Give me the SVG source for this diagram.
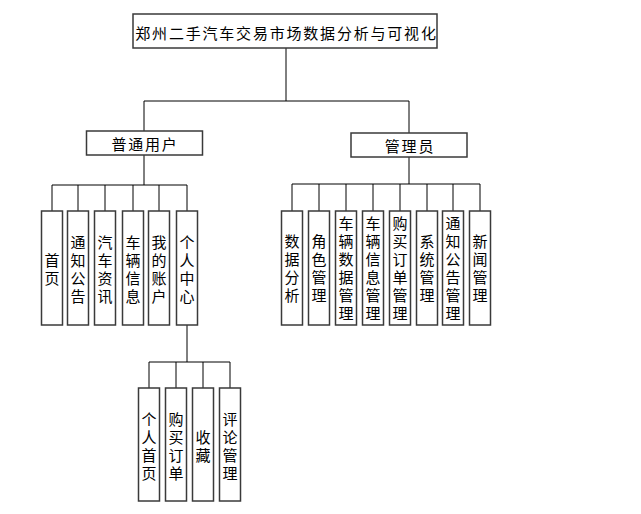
<svg xmlns="http://www.w3.org/2000/svg" width="641" height="514" viewBox="0 0 641 514">
<style>
.box{fill:#fff;stroke:#3a3a3a;stroke-width:1.5}
.ln{fill:none;stroke:#000;stroke-width:1}
text{font-family:"Noto Sans CJK SC","Noto Sans CJK JP",sans-serif;font-size:15px;fill:#000;text-anchor:middle;dominant-baseline:central}
.h{letter-spacing:1.8px}
.v{writing-mode:vertical-rl;text-orientation:upright}
</style>
<rect width="641" height="514" fill="#fff"/>
<g id="connectors">
<path class="ln" d="M286,48V101M144,101H409M144,101V131M409,101V133"/>
<path class="ln" d="M144,155V185M52,185H187M52,185V211M78,185V211M105,185V211M133,185V211M159,185V211M187,185V211"/>
<path class="ln" d="M409,157V184M292,184H480M292,184V211M319,184V211M346,184V211M373,184V211M400,184V211M427,184V211M453,184V211M480,184V211"/>
<path class="ln" d="M187,325V362M149,362H230M149,362V388M176,362V388M203,362V388M230,362V388"/>
</g>
<g id="title"><rect class="box" x="133" y="14" width="304" height="34"/><text class="h" x="286.5" y="32">郑州二手汽车交易市场数据分析与可视化</text></g>
<g id="user"><rect class="box" x="86.5" y="131" width="116" height="24"/><text class="h" x="145" y="143">普通用户</text></g>
<g id="admin"><rect class="box" x="351" y="133" width="116" height="24"/><text class="h" x="410" y="145">管理员</text></g>

<g id="u1"><rect class="box" x="41.5" y="211" width="21" height="114"/><text class="v"><tspan x="52" y="260">首</tspan><tspan x="52" y="278">页</tspan></text></g>
<g id="u2"><rect class="box" x="67.5" y="211" width="21" height="114"/><text class="v"><tspan x="78" y="242">通</tspan><tspan x="78" y="260">知</tspan><tspan x="78" y="278">公</tspan><tspan x="78" y="296">告</tspan></text></g>
<g id="u3"><rect class="box" x="94.5" y="211" width="21" height="114"/><text class="v"><tspan x="105" y="242">汽</tspan><tspan x="105" y="260">车</tspan><tspan x="105" y="278">资</tspan><tspan x="105" y="296">讯</tspan></text></g>
<g id="u4"><rect class="box" x="122.5" y="211" width="21" height="114"/><text class="v"><tspan x="133" y="242">车</tspan><tspan x="133" y="260">辆</tspan><tspan x="133" y="278">信</tspan><tspan x="133" y="296">息</tspan></text></g>
<g id="u5"><rect class="box" x="148.5" y="211" width="21" height="114"/><text class="v"><tspan x="159" y="242">我</tspan><tspan x="159" y="260">的</tspan><tspan x="159" y="278">账</tspan><tspan x="159" y="296">户</tspan></text></g>
<g id="u6"><rect class="box" x="176.5" y="211" width="21" height="114"/><text class="v"><tspan x="187" y="242">个</tspan><tspan x="187" y="260">人</tspan><tspan x="187" y="278">中</tspan><tspan x="187" y="296">心</tspan></text></g>

<g id="a1"><rect class="box" x="281.5" y="211" width="21" height="114"/><text class="v"><tspan x="292" y="241">数</tspan><tspan x="292" y="259">据</tspan><tspan x="292" y="277">分</tspan><tspan x="292" y="295">析</tspan></text></g>
<g id="a2"><rect class="box" x="308.5" y="211" width="21" height="114"/><text class="v"><tspan x="319" y="241">角</tspan><tspan x="319" y="259">色</tspan><tspan x="319" y="277">管</tspan><tspan x="319" y="295">理</tspan></text></g>
<g id="a3"><rect class="box" x="335.5" y="211" width="21" height="114"/><text class="v"><tspan x="346" y="223">车</tspan><tspan x="346" y="241">辆</tspan><tspan x="346" y="259">数</tspan><tspan x="346" y="277">据</tspan><tspan x="346" y="295">管</tspan><tspan x="346" y="313">理</tspan></text></g>
<g id="a4"><rect class="box" x="362.5" y="211" width="21" height="114"/><text class="v"><tspan x="373" y="223">车</tspan><tspan x="373" y="241">辆</tspan><tspan x="373" y="259">信</tspan><tspan x="373" y="277">息</tspan><tspan x="373" y="295">管</tspan><tspan x="373" y="313">理</tspan></text></g>
<g id="a5"><rect class="box" x="389.5" y="211" width="21" height="114"/><text class="v"><tspan x="400" y="223">购</tspan><tspan x="400" y="241">买</tspan><tspan x="400" y="259">订</tspan><tspan x="400" y="277">单</tspan><tspan x="400" y="295">管</tspan><tspan x="400" y="313">理</tspan></text></g>
<g id="a6"><rect class="box" x="416.5" y="211" width="21" height="114"/><text class="v"><tspan x="427" y="241">系</tspan><tspan x="427" y="259">统</tspan><tspan x="427" y="277">管</tspan><tspan x="427" y="295">理</tspan></text></g>
<g id="a7"><rect class="box" x="442.5" y="211" width="21" height="114"/><text class="v"><tspan x="453" y="223">通</tspan><tspan x="453" y="241">知</tspan><tspan x="453" y="259">公</tspan><tspan x="453" y="277">告</tspan><tspan x="453" y="295">管</tspan><tspan x="453" y="313">理</tspan></text></g>
<g id="a8"><rect class="box" x="469.5" y="211" width="21" height="114"/><text class="v"><tspan x="480" y="241">新</tspan><tspan x="480" y="259">闻</tspan><tspan x="480" y="277">管</tspan><tspan x="480" y="295">理</tspan></text></g>

<g id="p1"><rect class="box" x="138.5" y="388" width="21" height="113"/><text class="v"><tspan x="149" y="419">个</tspan><tspan x="149" y="437">人</tspan><tspan x="149" y="455">首</tspan><tspan x="149" y="473">页</tspan></text></g>
<g id="p2"><rect class="box" x="165.5" y="388" width="21" height="113"/><text class="v"><tspan x="176" y="419">购</tspan><tspan x="176" y="437">买</tspan><tspan x="176" y="455">订</tspan><tspan x="176" y="473">单</tspan></text></g>
<g id="p3"><rect class="box" x="192.5" y="388" width="21" height="113"/><text class="v"><tspan x="203" y="437">收</tspan><tspan x="203" y="455">藏</tspan></text></g>
<g id="p4"><rect class="box" x="219.5" y="388" width="21" height="113"/><text class="v"><tspan x="230" y="419">评</tspan><tspan x="230" y="437">论</tspan><tspan x="230" y="455">管</tspan><tspan x="230" y="473">理</tspan></text></g>
</svg>
